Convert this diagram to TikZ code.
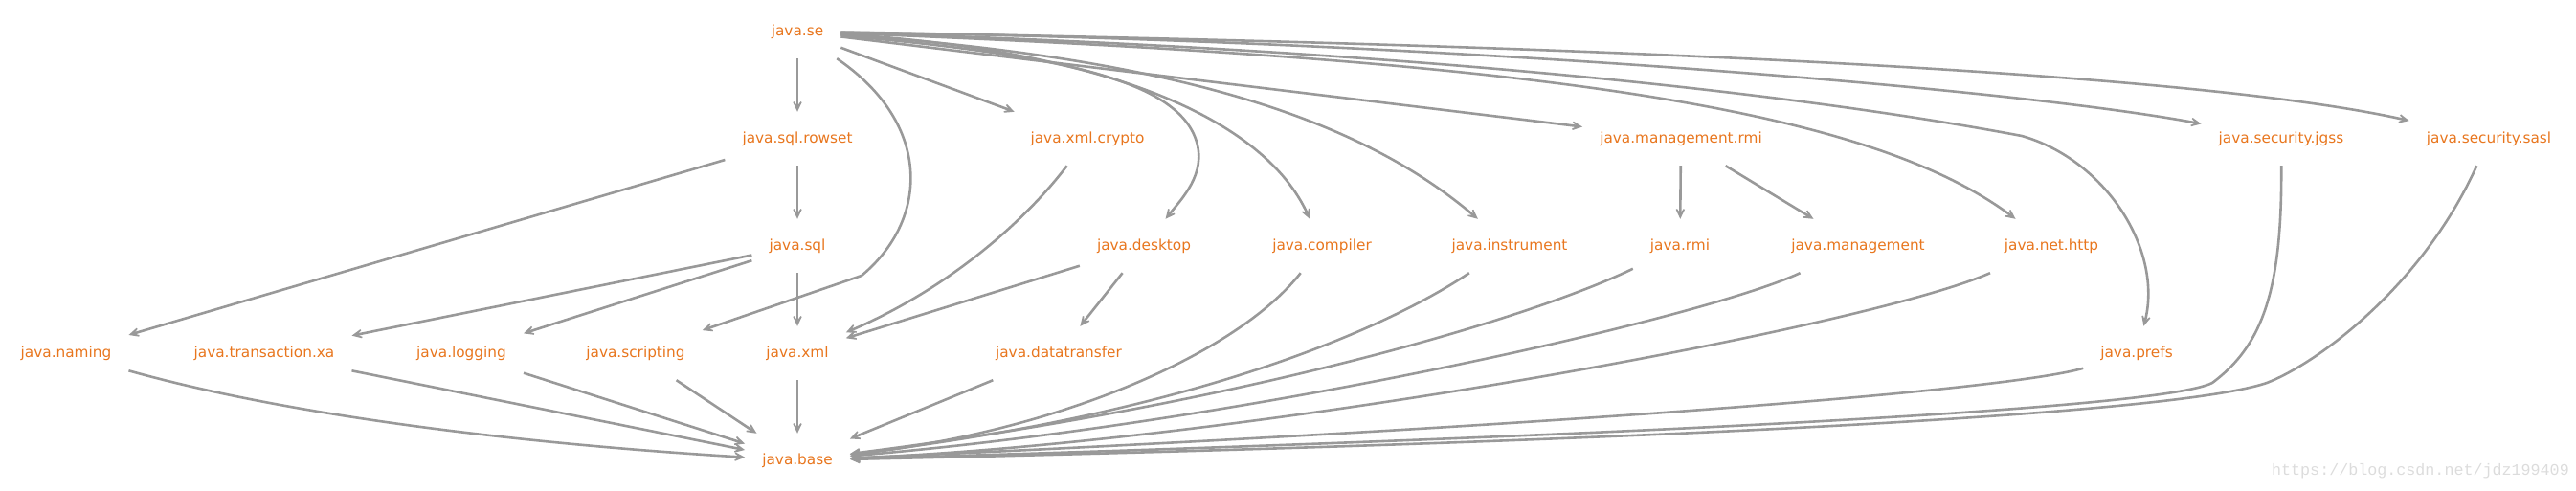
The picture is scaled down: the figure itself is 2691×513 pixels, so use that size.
\documentclass[tikz,border=0pt]{standalone}
\usepackage{fontspec}
\setmainfont{DejaVu Sans}
\newfontfamily\wmfont{Liberation Mono}
\usetikzlibrary{arrows.meta}
\definecolor{modorange}{RGB}{232,118,30}
\definecolor{depgray}{RGB}{153,153,153}
\definecolor{wmgray}{RGB}{220,220,220}
\begin{document}
\begin{tikzpicture}[x=1pt,y=-1pt,
		mod/.style={text=modorange,inner xsep=18pt,inner ysep=0pt,minimum height=56pt,font=\fontsize{15.3}{18}\selectfont},
		dep/.style={draw=depgray,line width=2.6pt,-{Stealth[length=17pt,width=16pt,inset=11pt]}},
		via/.style 2 args={to path={.. controls #1 and #2 .. (\tikztotarget)}},
		viakink/.style n args={3}{to path={.. controls #1 and #2 .. #3 -- (\tikztotarget)}},
		via2/.style n args={5}{to path={.. controls #1 and #2 .. #3 .. controls #4 and #5 .. (\tikztotarget)}},
		watermark/.style={text=wmgray,inner sep=0pt,font=\wmfont\fontsize{16.7}{20}\selectfont}]
		\useasboundingbox (0,0) rectangle (2691,513);
		\node[mod] (base) at (833,481) {java.base};
		\node[mod] (xml) at (833,369) {java.xml}
			edge[dep] (base);
		\node[mod] (naming) at (69,369) {java.naming}
			edge[dep,via={(330,442)}{(600,467)}] (base);
		\node[mod] (txa) at (276,369) {java.transaction.xa}
			edge[dep] (base);
		\node[mod] (logging) at (482,369) {java.logging}
			edge[dep] (base);
		\node[mod] (scripting) at (664,369) {java.scripting}
			edge[dep] (base);
		\node[mod] (datatr) at (1106,369) {java.datatransfer}
			edge[dep] (base);
		\node[mod] (prefs) at (2232,369) {java.prefs}
			edge[dep,via={(2080,412)}{(1500,452)}] (base);
		\node[mod] (compiler) at (1381,257) {java.compiler}
			edge[dep,via={(1290,372)}{(1100,452)}] (base);
		\node[mod] (instr) at (1577,257) {java.instrument}
			edge[dep,via={(1450,342)}{(1250,432)}] (base);
		\node[mod] (rmi) at (1755,257) {java.rmi}
			edge[dep,via={(1600,332)}{(1300,422)}] (base);
		\node[mod] (mgmt) at (1941,257) {java.management}
			edge[dep,via={(1780,332)}{(1300,442)}] (base);
		\node[mod] (nethttp) at (2143,257) {java.net.http}
			edge[dep,via={(1950,342)}{(1300,462)}] (base);
		\node[mod] (jgss) at (2383,145) {java.security.jgss}
			edge[dep,via2={(2384,300)}{(2365,360)}{(2311,400)}{(2250,432)}{(1500,462)}] (base);
		\node[mod] (sasl) at (2600,145) {java.security.sasl}
			edge[dep,via2={(2530,300)}{(2420,380)}{(2368,400)}{(2250,440)}{(1500,467)}] (base);
		\node[mod] (sql) at (833,257) {java.sql}
			edge[dep] (xml)
			edge[dep] (txa)
			edge[dep] (logging);
		\node[mod] (desktop) at (1195,257) {java.desktop}
			edge[dep] (xml)
			edge[dep] (datatr);
		\node[mod] (rowset) at (833,145) {java.sql.rowset}
			edge[dep] (sql)
			edge[dep] (naming);
		\node[mod] (crypto) at (1136,145) {java.xml.crypto}
			edge[dep,via={(1070,232)}{(990,302)}] (xml);
		\node[mod] (mgmtrmi) at (1756,145) {java.management.rmi}
			edge[dep] (rmi)
			edge[dep] (mgmt);
		\node[mod] (se) at (833,33) {java.se}
			edge[dep] (rowset)
			edge[dep,viakink={(975,130)}{(970,230)}{(900,288)}] (scripting)
			edge[dep] (crypto)
			edge[dep,via2={(1100,57)}{(1230,82)}{(1250,148)}{(1260,182)}{(1235,207)}] (desktop)
			edge[dep,via={(1150,52)}{(1320,122)}] (compiler)
			edge[dep,via={(1250,62)}{(1430,132)}] (instr)
			edge[dep] (mgmtrmi)
			edge[dep,via={(1600,62)}{(1950,112)}] (nethttp)
			edge[dep,via2={(1500,52)}{(1900,102)}{(2112,142)}{(2200,167)}{(2260,262)}] (prefs)
			edge[dep,via={(1500,42)}{(2100,92)}] (jgss)
			edge[dep,via={(1700,47)}{(2300,77)}] (sasl);
		\node[watermark,anchor=east] (wm) at (2684,492) {https://blog.csdn.net/jdz199409};
	\end{tikzpicture}
\end{document}
